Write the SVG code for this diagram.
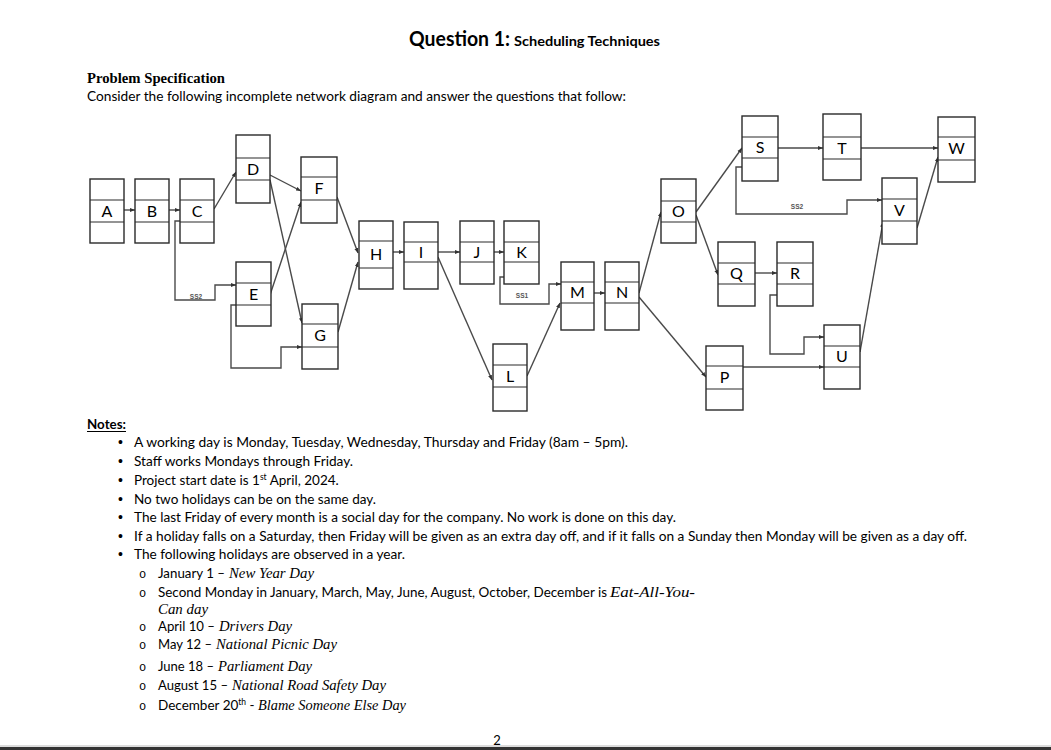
<svg xmlns="http://www.w3.org/2000/svg" width="1051" height="750" viewBox="0 0 1051 750">
<style>
.t{font-family:Lato,"Open Sans","Liberation Sans",sans-serif;font-size:13.5px;fill:#000}
.it{font-family:"Liberation Serif",serif;font-style:italic;font-size:14.5px;fill:#000}
.nd rect{fill:#fff;stroke:#2a2a2a;stroke-width:1.4}
.nd line{stroke:#2a2a2a;stroke-width:1.2}
.nd text{font-family:Lato,"Open Sans","Liberation Sans",sans-serif;font-size:16px;text-anchor:middle;fill:#000}
.cn path{fill:none;stroke:#4a4a4a;stroke-width:1.4}
.ss{font-family:"Liberation Sans",sans-serif;font-size:6.5px;font-weight:bold;fill:#555;text-anchor:middle}
.bu{font-family:"Liberation Sans",sans-serif;font-size:14px;fill:#000}
.sb{font-family:"Liberation Mono",monospace;font-size:12px;fill:#000}
</style>
<defs>
<marker id="ah" viewBox="0 0 10 10" refX="10" refY="5" markerWidth="5" markerHeight="5" orient="auto" markerUnits="userSpaceOnUse"><path d="M0,1 L10,5 L0,9z" fill="#333"/></marker>
</defs>
<rect width="1051" height="750" fill="#fff"/>

<!-- Header text -->
<text x="409" y="46" font-family="Lato,'Open Sans','Liberation Sans',sans-serif" font-weight="bold" font-size="20" textLength="101" lengthAdjust="spacingAndGlyphs">Question 1:</text>
<text x="514" y="46" font-family="Lato,'Open Sans','Liberation Sans',sans-serif" font-weight="bold" font-size="14" textLength="146" lengthAdjust="spacingAndGlyphs">Scheduling Techniques</text>
<text x="87" y="83" font-family="'Liberation Serif',serif" font-weight="bold" font-size="14.5" textLength="138" lengthAdjust="spacingAndGlyphs">Problem Specification</text>
<text class="t" x="87" y="101" textLength="539" lengthAdjust="spacingAndGlyphs">Consider the following incomplete network diagram and answer the questions that follow:</text>

<!-- Connectors -->
<g id="connectors" class="cn">
<path d="M124,210 L135,210" marker-end="url(#ah)"/>
<path d="M169,210 L180,210" marker-end="url(#ah)"/>
<path d="M214,209 L236,172" marker-end="url(#ah)"/>
<path d="M180,221 L175,221 L175,300 L215,300 L215,285 L236,285" marker-end="url(#ah)"/>
<path d="M270,175 L301,191" marker-end="url(#ah)"/>
<path d="M270,180 L302,323" marker-end="url(#ah)"/>
<path d="M270,295 L301,202" marker-end="url(#ah)"/>
<path d="M236,305 L231,305 L231,368 L281,368 L281,347 L302,347" marker-end="url(#ah)"/>
<path d="M337,197 L358,253" marker-end="url(#ah)"/>
<path d="M338,332 L358,262" marker-end="url(#ah)"/>
<path d="M393,252 L404,252" marker-end="url(#ah)"/>
<path d="M438,252 L460,252" marker-end="url(#ah)"/>
<path d="M494,252 L504,252" marker-end="url(#ah)"/>
<path d="M438,257 L492,380" marker-end="url(#ah)"/>
<path d="M504,277 L500,277 L500,304 L549,304 L549,284 L561,284" marker-end="url(#ah)"/>
<path d="M527,376 L560,303" marker-end="url(#ah)"/>
<path d="M594,293 L605,293" marker-end="url(#ah)"/>
<path d="M639,293 L661,212" marker-end="url(#ah)"/>
<path d="M639,297 L706,377" marker-end="url(#ah)"/>
<path d="M696,212 L742,148" marker-end="url(#ah)"/>
<path d="M696,215 L718,275" marker-end="url(#ah)"/>
<path d="M778,148 L823,148" marker-end="url(#ah)"/>
<path d="M861,148 L938,148" marker-end="url(#ah)"/>
<path d="M742,167 L736,167 L736,214 L847,214 L847,200 L882,200" marker-end="url(#ah)"/>
<path d="M755,273 L777,273" marker-end="url(#ah)"/>
<path d="M777,295 L770,295 L770,354 L804,354 L804,337 L824,337" marker-end="url(#ah)"/>
<path d="M743,367 L824,367" marker-end="url(#ah)"/>
<path d="M860,352 L883,222" marker-end="url(#ah)"/>
<path d="M917,228 L938,157" marker-end="url(#ah)"/>
<text class="ss" x="196" y="299">SS2</text>
<text class="ss" x="522" y="298">SS1</text>
<text class="ss" x="797" y="209">SS2</text>
</g>

<!-- Nodes -->
<g id="node-A" class="nd"><rect x="90" y="179" width="34" height="64"/><line x1="90" y1="200" x2="124" y2="200"/><line x1="90" y1="222" x2="124" y2="222"/><text x="107" y="217">A</text></g>
<g id="node-B" class="nd"><rect x="135" y="179" width="34" height="64"/><line x1="135" y1="200" x2="169" y2="200"/><line x1="135" y1="222" x2="169" y2="222"/><text x="152" y="217">B</text></g>
<g id="node-C" class="nd"><rect x="180" y="179" width="34" height="64"/><line x1="180" y1="200" x2="214" y2="200"/><line x1="180" y1="222" x2="214" y2="222"/><text x="197" y="217">C</text></g>
<g id="node-D" class="nd"><rect x="236" y="135" width="34" height="68"/><line x1="236" y1="158" x2="270" y2="158"/><line x1="236" y1="180" x2="270" y2="180"/><text x="253" y="175">D</text></g>
<g id="node-F" class="nd"><rect x="301" y="157" width="36" height="66"/><line x1="301" y1="177" x2="337" y2="177"/><line x1="301" y1="200" x2="337" y2="200"/><text x="319" y="194">F</text></g>
<g id="node-E" class="nd"><rect x="236" y="262" width="35" height="64"/><line x1="236" y1="283" x2="271" y2="283"/><line x1="236" y1="305" x2="271" y2="305"/><text x="253.5" y="300">E</text></g>
<g id="node-G" class="nd"><rect x="302" y="304" width="36" height="65"/><line x1="302" y1="324" x2="338" y2="324"/><line x1="302" y1="347" x2="338" y2="347"/><text x="320" y="341">G</text></g>
<g id="node-H" class="nd"><rect x="359" y="221" width="34" height="68"/><line x1="359" y1="241" x2="393" y2="241"/><line x1="359" y1="268" x2="393" y2="268"/><text x="376" y="260">H</text></g>
<g id="node-I" class="nd"><rect x="404" y="222" width="34" height="67"/><line x1="404" y1="242" x2="438" y2="242"/><line x1="404" y1="262" x2="438" y2="262"/><text x="421" y="258">I</text></g>
<g id="node-J" class="nd"><rect x="460" y="221" width="34" height="63"/><line x1="460" y1="242" x2="494" y2="242"/><line x1="460" y1="262" x2="494" y2="262"/><text x="477" y="258">J</text></g>
<g id="node-K" class="nd"><rect x="504" y="221" width="35" height="63"/><line x1="504" y1="242" x2="539" y2="242"/><line x1="504" y1="262" x2="539" y2="262"/><text x="521.5" y="258">K</text></g>
<g id="node-L" class="nd"><rect x="493" y="344" width="34" height="67"/><line x1="493" y1="365" x2="527" y2="365"/><line x1="493" y1="387" x2="527" y2="387"/><text x="510" y="382">L</text></g>
<g id="node-M" class="nd"><rect x="561" y="262" width="33" height="68"/><line x1="561" y1="282" x2="594" y2="282"/><line x1="561" y1="303" x2="594" y2="303"/><text x="577.5" y="298">M</text></g>
<g id="node-N" class="nd"><rect x="605" y="262" width="34" height="68"/><line x1="605" y1="282" x2="639" y2="282"/><line x1="605" y1="303" x2="639" y2="303"/><text x="622" y="298">N</text></g>
<g id="node-O" class="nd"><rect x="661" y="179" width="35" height="64"/><line x1="661" y1="201" x2="696" y2="201"/><line x1="661" y1="222" x2="696" y2="222"/><text x="678.5" y="217">O</text></g>
<g id="node-S" class="nd"><rect x="742" y="116" width="36" height="65"/><line x1="742" y1="137" x2="778" y2="137"/><line x1="742" y1="158" x2="778" y2="158"/><text x="760" y="153">S</text></g>
<g id="node-T" class="nd"><rect x="823" y="114" width="38" height="66"/><line x1="823" y1="137" x2="861" y2="137"/><line x1="823" y1="159" x2="861" y2="159"/><text x="842" y="154">T</text></g>
<g id="node-W" class="nd"><rect x="938" y="117" width="37" height="65"/><line x1="938" y1="137" x2="975" y2="137"/><line x1="938" y1="160" x2="975" y2="160"/><text x="956.5" y="154">W</text></g>
<g id="node-V" class="nd"><rect x="882" y="178" width="35" height="66"/><line x1="882" y1="199" x2="917" y2="199"/><line x1="882" y1="221" x2="917" y2="221"/><text x="899.5" y="216">V</text></g>
<g id="node-Q" class="nd"><rect x="718" y="242" width="37" height="64"/><line x1="718" y1="263" x2="755" y2="263"/><line x1="718" y1="284" x2="755" y2="284"/><text x="736.5" y="279">Q</text></g>
<g id="node-R" class="nd"><rect x="777" y="242" width="36" height="64"/><line x1="777" y1="263" x2="813" y2="263"/><line x1="777" y1="284" x2="813" y2="284"/><text x="795" y="279">R</text></g>
<g id="node-P" class="nd"><rect x="706" y="346" width="37" height="64"/><line x1="706" y1="366" x2="743" y2="366"/><line x1="706" y1="389" x2="743" y2="389"/><text x="724.5" y="383">P</text></g>
<g id="node-U" class="nd"><rect x="824" y="325" width="36" height="64"/><line x1="824" y1="346" x2="860" y2="346"/><line x1="824" y1="367" x2="860" y2="367"/><text x="842" y="362">U</text></g>

<!-- Notes -->
<text x="87" y="429" font-family="Lato,'Open Sans','Liberation Sans',sans-serif" font-weight="bold" font-size="13.5" textLength="39" lengthAdjust="spacingAndGlyphs">Notes:</text>
<line x1="87" y1="431.5" x2="126" y2="431.5" stroke="#000" stroke-width="1"/>

<g class="bu">
<text x="118" y="447">•</text><text x="118" y="466">•</text><text x="118" y="485">•</text><text x="118" y="504">•</text><text x="118" y="522">•</text><text x="118" y="541">•</text><text x="118" y="559">•</text>
</g>
<text class="t" x="134" y="447" textLength="494" lengthAdjust="spacingAndGlyphs">A working day is Monday, Tuesday, Wednesday, Thursday and Friday (8am – 5pm).</text>
<text class="t" x="134" y="466" textLength="219" lengthAdjust="spacingAndGlyphs">Staff works Mondays through Friday.</text>
<text class="t" x="134" y="485">Project start date is 1<tspan font-size="8.5" dy="-5">st</tspan><tspan dy="5"> April, 2024.</tspan></text>
<text class="t" x="134" y="504" textLength="242" lengthAdjust="spacingAndGlyphs">No two holidays can be on the same day.</text>
<text class="t" x="134" y="522" textLength="542" lengthAdjust="spacingAndGlyphs">The last Friday of every month is a social day for the company. No work is done on this day.</text>
<text class="t" x="134" y="541" textLength="833" lengthAdjust="spacingAndGlyphs">If a holiday falls on a Saturday, then Friday will be given as an extra day off, and if it falls on a Sunday then Monday will be given as a day off.</text>
<text class="t" x="134" y="559" textLength="271" lengthAdjust="spacingAndGlyphs">The following holidays are observed in a year.</text>

<g class="sb">
<text x="139" y="578">o</text><text x="139" y="597">o</text><text x="139" y="631">o</text><text x="139" y="649">o</text><text x="139" y="671">o</text><text x="139" y="690">o</text><text x="139" y="710">o</text>
</g>
<text class="t" x="158" y="578" textLength="67" lengthAdjust="spacingAndGlyphs">January 1 –</text>
<text class="it" x="229" y="578" textLength="85" lengthAdjust="spacingAndGlyphs">New Year Day</text>
<text class="t" x="158" y="597" textLength="449" lengthAdjust="spacingAndGlyphs">Second Monday in January, March, May, June, August, October, December is</text>
<text class="it" x="610" y="597" textLength="85" lengthAdjust="spacingAndGlyphs">Eat-All-You-</text>
<text class="it" x="158" y="614" textLength="50" lengthAdjust="spacingAndGlyphs">Can day</text>
<text class="t" x="158" y="631" textLength="57" lengthAdjust="spacingAndGlyphs">April 10 –</text>
<text class="it" x="219" y="631" textLength="73" lengthAdjust="spacingAndGlyphs">Drivers Day</text>
<text class="t" x="158" y="649" textLength="54" lengthAdjust="spacingAndGlyphs">May 12 –</text>
<text class="it" x="216" y="649" textLength="121" lengthAdjust="spacingAndGlyphs">National Picnic Day</text>
<text class="t" x="158" y="671" textLength="56" lengthAdjust="spacingAndGlyphs">June 18 –</text>
<text class="it" x="218" y="671" textLength="94" lengthAdjust="spacingAndGlyphs">Parliament Day</text>
<text class="t" x="158" y="690" textLength="70" lengthAdjust="spacingAndGlyphs">August 15 –</text>
<text class="it" x="232" y="690" textLength="154" lengthAdjust="spacingAndGlyphs">National Road Safety Day</text>
<text class="t" x="158" y="710">December 20<tspan font-size="8.5" dy="-5">th</tspan><tspan dy="5"> -</tspan></text>
<text class="it" x="258" y="710" textLength="148" lengthAdjust="spacingAndGlyphs">Blame Someone Else Day</text>

<!-- Footer -->
<text x="497" y="745" font-family="Lato,'Open Sans','Liberation Sans',sans-serif" font-size="13" text-anchor="middle" fill="#000">2</text>
<rect x="0" y="745" width="1051" height="2" fill="#dcdcdc"/>
<rect x="0" y="747" width="1051" height="3" fill="#333"/>
</svg>
